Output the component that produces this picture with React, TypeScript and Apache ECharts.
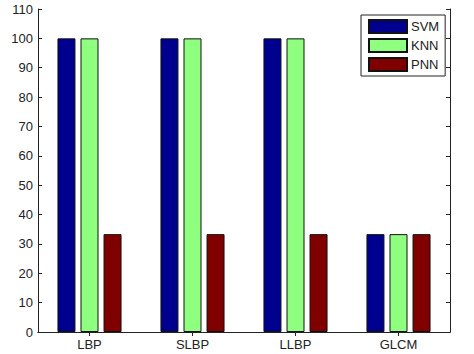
import React, { useEffect, useRef } from "react";
import * as echarts from "echarts";

const categories = ["LBP", "SLBP", "LLBP", "GLCM"];
const svm = [100, 100, 100, 33.33];
const knn = [100, 100, 100, 33.33];
const pnn = [33.33, 33.33, 33.33, 33.33];
const yTicks = { min: 0, max: 110, interval: 10 };

export default function App() {
  const ref = useRef<HTMLDivElement>(null);
  useEffect(() => {
    const chart = echarts.init(ref.current!, null, { renderer: "svg" });
    const font = "Liberation Sans, Arial, sans-serif";
    const axisLine = { show: true, lineStyle: { color: "#222", width: 1 } };
    const tick = { show: true, inside: true, length: 4, lineStyle: { color: "#222" } };
    const bar = (name: string, data: number[], color: string) => ({
      name,
      type: "bar",
      data,
      barWidth: 18,
      barGap: "28%",
      itemStyle: { color, borderColor: "#111", borderWidth: 1 },
    });
    chart.setOption({
      animation: false,
      backgroundColor: "#fff",
      grid: { left: 38, right: 24, top: 9, bottom: 22, containLabel: false },
      legend: {
        orient: "vertical",
        left: 361,
        top: 15,
        width: 83,
        padding: [4, 6, 4, 7],
        itemWidth: 38,
        itemHeight: 13,
        itemGap: 4,
        icon: "rect",
        backgroundColor: "#fff",
        borderColor: "#222",
        borderWidth: 1,
        borderRadius: 0,
        textStyle: { fontFamily: font, fontSize: 13, color: "#222", padding: [0, 0, 0, -1] },
        data: ["SVM", "KNN", "PNN"],
      },
      xAxis: [
        {
          type: "category",
          data: categories,
          axisLine,
          axisTick: { ...tick, alignWithLabel: true },
          axisLabel: { fontFamily: font, fontSize: 13, color: "#222", margin: 6 },
        },
        {
          type: "category",
          data: categories,
          position: "top",
          axisLine,
          axisTick: { ...tick, alignWithLabel: true },
          axisLabel: { show: false },
        },
      ],
      yAxis: [
        {
          type: "value",
          ...yTicks,
          axisLine,
          axisTick: tick,
          splitLine: { show: false },
          axisLabel: { fontFamily: font, fontSize: 13, color: "#222", margin: 5 },
        },
        {
          type: "value",
          ...yTicks,
          position: "right",
          axisLine,
          axisTick: tick,
          splitLine: { show: false },
          axisLabel: { show: false },
        },
      ],
      series: [
        bar("SVM", svm, "#00008f"),
        bar("KNN", knn, "#8fff80"),
        bar("PNN", pnn, "#800000"),
      ],
    });
    return () => chart.dispose();
  }, []);
  return (
    <div
      ref={ref}
      style={{ position: "absolute", left: 0, top: 0, width: 474, height: 354 }}
    />
  );
}
